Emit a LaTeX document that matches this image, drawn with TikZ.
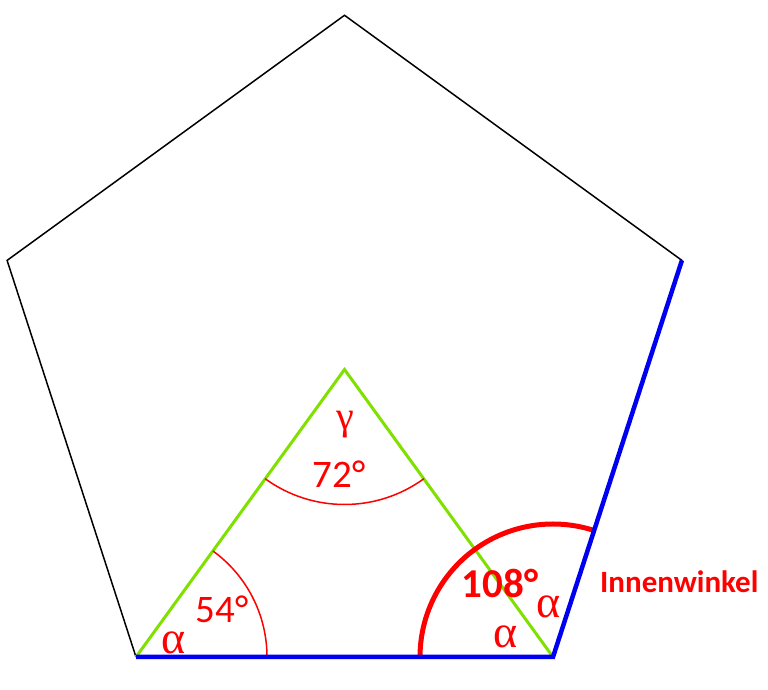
\documentclass[tikz,border=0pt]{standalone}
\usepackage{fontspec}
\setmainfont{Carlito}
\newfontfamily\greekfont{Liberation Serif}
\definecolor{pred}{RGB}{255,0,0}
\definecolor{pgreen}{RGB}{128,224,0}
\definecolor{pblue}{RGB}{0,0,240}
\tikzset{
  edge/.style={black,line width=1.5pt},
  bedge/.style={pblue,line width=4.5pt},
  gedge/.style={pgreen,line width=3pt},
  thinarc/.style={pred,line width=1.5pt},
  thickarc/.style={pred,line width=5pt},
  numlbl/.style={text=pred,font=\fontsize{39}{39}\selectfont,inner sep=0pt},
  boldlbl/.style={text=pred,font=\fontsize{41}{41}\selectfont\bfseries,inner sep=0pt},
  grk/.style={text=pred,font=\fontsize{40}{40}\selectfont\greekfont,inner sep=0pt},
  alph/.style={text=pred,font=\fontsize{46}{46}\selectfont\greekfont,inner sep=0pt},
  note/.style={text=pred,font=\fontsize{31}{31}\selectfont\bfseries,inner sep=0pt}
}
\begin{document}
\begin{tikzpicture}[x=1pt,y=1pt]
\useasboundingbox (0,0) rectangle (768,690);
% pentagon vertices (y measured upward)
\coordinate (A) at (136,33);
\coordinate (B) at (553,33);
\coordinate (C) at (681.9,429.6);
\coordinate (D) at (344.5,674.7);
\coordinate (E) at (7.1,429.6);
\coordinate (O) at (344.5,320.5);
% black sides
\draw[edge,line join=miter] (B) -- (C) -- (D) -- (E) -- (A);
% green triangle
\draw[gedge] (A) -- (O) -- (B);
% angle arcs
\draw[thinarc] ([shift={(0:131)}]A) arc[start angle=0,end angle=54,radius=131];
\draw[thinarc] ([shift={(234:135)}]O) arc[start angle=234,end angle=306,radius=135];
\draw[thickarc] ([shift={(180:133)}]B) arc[start angle=180,end angle=72,radius=133];
% blue sides
\draw[bedge,line join=miter] (A) -- (B) -- (C);
% labels
\node[grk] (g) at (345,265) {γ};
\node[numlbl] (n72) at (339,216) {72°};
\node[numlbl] (n54) at (222,81) {54°};
\node[alph] (a1) at (174,47) {α};
\node[boldlbl] (n108) at (500,107) {108°};
\node[alph] (a2) at (549,83) {α};
\node[alph] (a3) at (506,53) {α};
\node[note,anchor=west] (inn) at (600,108) {Innenwinkel};
\end{tikzpicture}
\end{document}
